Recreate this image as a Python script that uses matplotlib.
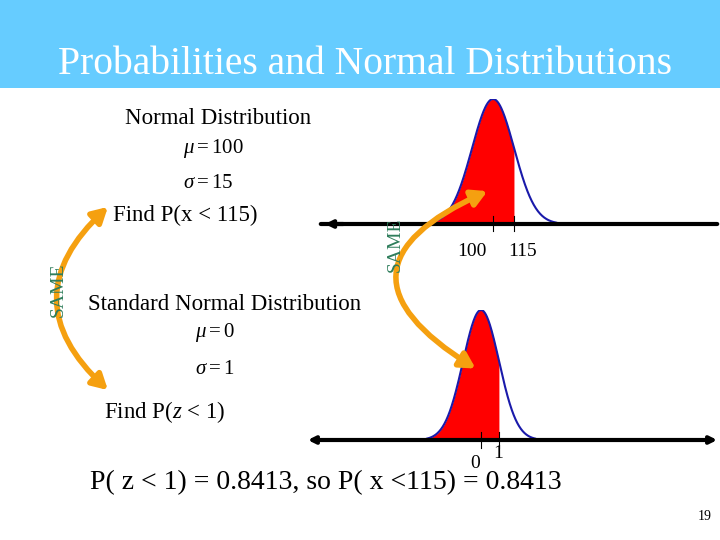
import numpy as np
import matplotlib
matplotlib.use("Agg")
import matplotlib.pyplot as plt
from matplotlib.patches import FancyArrowPatch

plt.rcParams['font.family'] = ['Liberation Serif', 'DejaVu Serif']
plt.rcParams['mathtext.fontset'] = 'custom'
plt.rcParams['mathtext.rm'] = 'Liberation Serif'
plt.rcParams['mathtext.it'] = 'Liberation Serif:italic'

means = [100, 0]
sds = [15, 1]
cutoffs = [115, 1]

fig = plt.figure(figsize=(7.2, 5.4), dpi=100)
ax = fig.add_axes([0, 0, 1, 1])
ax.set_xlim(0, 720); ax.set_ylim(540, 0); ax.axis('off')
ax.add_patch(plt.Rectangle((0, 0), 720, 88, color='#66CCFF', lw=0))
ax.text(365, 65, "Probabilities and Normal Distributions", color='white', fontsize=28.5, ha='center', va='center')

def dist_axes(x0, x1, ybase, h, xlim):
    a = fig.add_axes([x0/720, 1-ybase/540, (x1-x0)/720, h/540])
    a.set_xlim(*xlim); a.set_ylim(0, 1); a.axis('off')
    return a

specs = [(318, 720, 224, 125, (-25, 262)), (305, 720, 440, 130, (-9.8, 13.3))]
for i, (x0, x1, yb, h, xl) in enumerate(specs):
    a = dist_axes(x0, x1, yb, h, xl)
    mu, sd, c = means[i], sds[i], cutoffs[i]
    x = np.linspace(mu-3*sd, mu+3*sd, 300)
    y = np.exp(-0.5*((x-mu)/sd)**2)
    a.fill_between(x, 0, y, where=x <= c, color='red', lw=0)
    a.plot(x, y, color='#1a1aaa', lw=1.5)
    a.annotate('', xy=(xl[1], 0), xytext=(xl[0], 0),
               arrowprops=dict(arrowstyle='<->' if i == 1 else '-', lw=3, color='black'),
               annotation_clip=False)
    if i == 0:
        a.annotate('', xy=(xl[0]+3, 0), xytext=(xl[0]+20, 0),
                   arrowprops=dict(arrowstyle='->', lw=3, color='black'), annotation_clip=False)
    for v in (mu, c):
        a.plot([v, v], [-0.06, 0.06], color='black', lw=0.8, clip_on=False)

ax.text(457, 252, "100", fontsize=14, va='center')
ax.text(508, 252, "115", fontsize=14, va='center')
ax.text(470, 463, "0", fontsize=14, va='center')
ax.text(493, 453, "1", fontsize=14, va='center')

ax.text(125, 118, "Normal Distribution", fontsize=16.5, va='center')
ax.text(183, 148, r"$\mu = 100$", fontsize=15, va='center')
ax.text(183, 184, r"$\sigma = 15$", fontsize=15, va='center')
ax.text(113, 215, "Find P(x < 115)", fontsize=16.5, va='center')
ax.text(88, 305, "Standard Normal Distribution", fontsize=16.5, va='center')
ax.text(195, 333, r"$\mu = 0$", fontsize=15, va='center')
ax.text(195, 370, r"$\sigma = 1$", fontsize=15, va='center')
ax.text(104, 412, r"Find P($\it{z}$ < 1)", fontsize=16.5, va='center')
ax.text(90, 483, "P( z < 1) = 0.8413, so P( x <115) = 0.8413", fontsize=20, va='center')
ax.text(712, 517, "19", fontsize=10, ha='right', va='center')

top = fig.add_axes([0, 0, 1, 1])
top.set_xlim(0, 720); top.set_ylim(540, 0); top.axis('off'); top.patch.set_alpha(0)
top.text(58, 290, "SAME", fontsize=14, rotation=90, color='#2e7d5b', ha='center', va='center')
top.text(395, 245, "SAME", fontsize=14, rotation=90, color='#2e7d5b', ha='center', va='center')

orange = '#F5A010'
top.add_patch(FancyArrowPatch((110, 205), (110, 392), connectionstyle='arc3,rad=0.55',
                              arrowstyle='<|-|>,head_length=9,head_width=5', lw=4, color=orange))
top.add_patch(FancyArrowPatch((490, 190), (478, 370), connectionstyle='arc3,rad=0.95',
                              arrowstyle='<|-|>,head_length=9,head_width=5', lw=4, color=orange))

fig.savefig("out.png", dpi=100)
